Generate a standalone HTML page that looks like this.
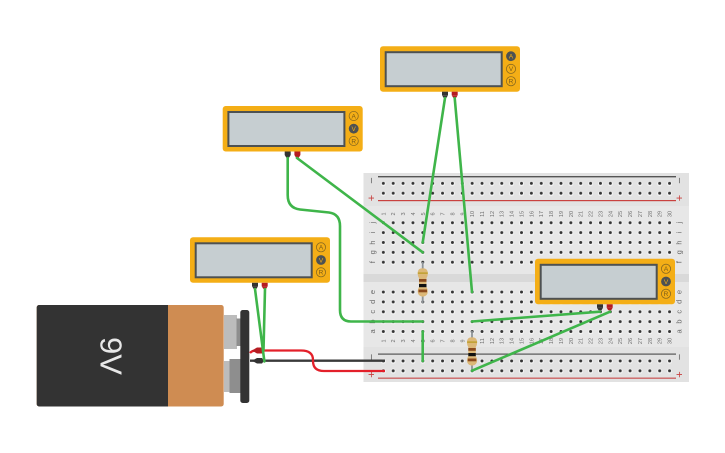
<!DOCTYPE html>
<html><head><meta charset="utf-8"><style>
html,body{margin:0;padding:0;background:#fff}
svg{display:block}
.l{font:5.5px "Liberation Sans",sans-serif;fill:#6f6f6f;text-anchor:middle}
.q{font:7.5px "Liberation Sans",sans-serif;fill:#6a6a6a;text-anchor:middle}
.k{font:11px "Liberation Sans",sans-serif;fill:#666;text-anchor:middle}
.p{font:11px "Liberation Sans",sans-serif;fill:#c8403f;text-anchor:middle}
.b{font:6.5px "Liberation Sans",sans-serif;text-anchor:middle}
.w{fill:none;stroke:#3fb54a;stroke-width:2.6;stroke-linecap:round;stroke-linejoin:round}
</style></head><body>
<svg width="725" height="453" viewBox="0 0 725 453" xmlns="http://www.w3.org/2000/svg">
<defs>
<pattern id="h" patternUnits="userSpaceOnUse" width="9.87" height="9.87" x="378.4" y="178.4">
<circle cx="4.93" cy="5.3" r="2.5" fill="#f4f4f4"/><circle cx="4.93" cy="4.93" r="1.5" fill="#333"/></pattern>
<pattern id="h2" patternUnits="userSpaceOnUse" width="9.87" height="9.87" x="378.4" y="217.8">
<circle cx="4.93" cy="5.3" r="2.5" fill="#f4f4f4"/><circle cx="4.93" cy="4.93" r="1.5" fill="#333"/></pattern>
<pattern id="h3" patternUnits="userSpaceOnUse" width="9.87" height="9.87" x="378.4" y="287.1">
<circle cx="4.93" cy="5.3" r="2.5" fill="#f4f4f4"/><circle cx="4.93" cy="4.93" r="1.5" fill="#333"/></pattern>
<pattern id="h4" patternUnits="userSpaceOnUse" width="9.87" height="9.87" x="378.4" y="356">
<circle cx="4.93" cy="5.3" r="2.5" fill="#f4f4f4"/><circle cx="4.93" cy="4.93" r="1.5" fill="#333"/></pattern>
<g id="m">
<rect width="140" height="45.5" rx="3" fill="#f4ae16"/>
<rect x="5.7" y="6" width="116" height="34" fill="#c6ced1" stroke="#4d5152" stroke-width="2"/>
</g>
</defs>

<!-- breadboard -->
<rect x="363.5" y="173" width="325.5" height="209" rx="2" fill="#e7e7e7"/>
<rect x="363.500" y="173" width="325.500" height="33" fill="#e2e2e2"/>
<rect x="363.500" y="347" width="325.500" height="35" fill="#e2e2e2"/>
<rect x="363.500" y="274" width="325.500" height="8" fill="#d9d9d9"/>
<rect x="378" y="176" width="298" height="1.400" fill="#555"/>
<rect x="378" y="200" width="298" height="1.200" fill="#c9413f"/>
<rect x="378" y="353.500" width="298" height="1.200" fill="#555"/>
<rect x="378" y="377.500" width="298" height="1.400" fill="#cc6565"/>
<rect x="378.400" y="178.400" width="296.100" height="19.740" fill="url(#h)"/>
<rect x="378.400" y="217.800" width="296.100" height="49.350" fill="url(#h2)"/>
<rect x="378.400" y="287.100" width="296.100" height="49.350" fill="url(#h3)"/>
<rect x="378.400" y="356" width="296.100" height="19.740" fill="url(#h4)"/>

<text class="k" transform="translate(375,180.500) rotate(-90)">−</text>
<text class="p" transform="translate(375,198) rotate(-90)">+</text>
<text class="k" transform="translate(683,180.500) rotate(-90)">−</text>
<text class="p" transform="translate(683,198) rotate(-90)">+</text>
<text class="k" transform="translate(375,357) rotate(-90)">−</text>
<text class="p" transform="translate(375,374.500) rotate(-90)">+</text>
<text class="k" transform="translate(683,357) rotate(-90)">−</text>
<text class="p" transform="translate(683,374.500) rotate(-90)">+</text>

<text class="q" transform="translate(375,222.700) rotate(-90)">j</text>
<text class="q" transform="translate(375,232.600) rotate(-90)">i</text>
<text class="q" transform="translate(375,242.500) rotate(-90)">h</text>
<text class="q" transform="translate(375,252.300) rotate(-90)">g</text>
<text class="q" transform="translate(375,262.200) rotate(-90)">f</text>
<text class="q" transform="translate(375,292) rotate(-90)">e</text>
<text class="q" transform="translate(375,301.800) rotate(-90)">d</text>
<text class="q" transform="translate(375,311.700) rotate(-90)">c</text>
<text class="q" transform="translate(375,321.500) rotate(-90)">b</text>
<text class="q" transform="translate(375,331.400) rotate(-90)">a</text>
<text class="q" transform="translate(681.500,222.700) rotate(-90)">j</text>
<text class="q" transform="translate(681.500,232.600) rotate(-90)">i</text>
<text class="q" transform="translate(681.500,242.500) rotate(-90)">h</text>
<text class="q" transform="translate(681.500,252.300) rotate(-90)">g</text>
<text class="q" transform="translate(681.500,262.200) rotate(-90)">f</text>
<text class="q" transform="translate(681.500,292) rotate(-90)">e</text>
<text class="q" transform="translate(681.500,301.800) rotate(-90)">d</text>
<text class="q" transform="translate(681.500,311.700) rotate(-90)">c</text>
<text class="q" transform="translate(681.500,321.500) rotate(-90)">b</text>
<text class="q" transform="translate(681.500,331.400) rotate(-90)">a</text>

<g>
<text class="l" transform="translate(385.300,214) rotate(-90)">1</text><text class="l" transform="translate(395.200,214) rotate(-90)">2</text><text class="l" transform="translate(405,214) rotate(-90)">3</text><text class="l" transform="translate(414.900,214) rotate(-90)">4</text><text class="l" transform="translate(424.800,214) rotate(-90)">5</text><text class="l" transform="translate(434.600,214) rotate(-90)">6</text><text class="l" transform="translate(444.500,214) rotate(-90)">7</text><text class="l" transform="translate(454.400,214) rotate(-90)">8</text><text class="l" transform="translate(464.300,214) rotate(-90)">9</text><text class="l" transform="translate(474.100,214) rotate(-90)">10</text>
<text class="l" transform="translate(484,214) rotate(-90)">11</text><text class="l" transform="translate(493.900,214) rotate(-90)">12</text><text class="l" transform="translate(503.700,214) rotate(-90)">13</text><text class="l" transform="translate(513.600,214) rotate(-90)">14</text><text class="l" transform="translate(523.500,214) rotate(-90)">15</text><text class="l" transform="translate(533.300,214) rotate(-90)">16</text><text class="l" transform="translate(543.200,214) rotate(-90)">17</text><text class="l" transform="translate(553.100,214) rotate(-90)">18</text><text class="l" transform="translate(562.900,214) rotate(-90)">19</text><text class="l" transform="translate(572.800,214) rotate(-90)">20</text>
<text class="l" transform="translate(582.700,214) rotate(-90)">21</text><text class="l" transform="translate(592.600,214) rotate(-90)">22</text><text class="l" transform="translate(602.400,214) rotate(-90)">23</text><text class="l" transform="translate(612.300,214) rotate(-90)">24</text><text class="l" transform="translate(622.200,214) rotate(-90)">25</text><text class="l" transform="translate(632,214) rotate(-90)">26</text><text class="l" transform="translate(641.900,214) rotate(-90)">27</text><text class="l" transform="translate(651.800,214) rotate(-90)">28</text><text class="l" transform="translate(661.600,214) rotate(-90)">29</text><text class="l" transform="translate(671.500,214) rotate(-90)">30</text>

<text class="l" transform="translate(385.300,341) rotate(-90)">1</text><text class="l" transform="translate(395.200,341) rotate(-90)">2</text><text class="l" transform="translate(405,341) rotate(-90)">3</text><text class="l" transform="translate(414.900,341) rotate(-90)">4</text><text class="l" transform="translate(424.800,341) rotate(-90)">5</text><text class="l" transform="translate(434.600,341) rotate(-90)">6</text><text class="l" transform="translate(444.500,341) rotate(-90)">7</text><text class="l" transform="translate(454.400,341) rotate(-90)">8</text><text class="l" transform="translate(464.300,341) rotate(-90)">9</text><text class="l" transform="translate(474.100,341) rotate(-90)">10</text>
<text class="l" transform="translate(484,341) rotate(-90)">11</text><text class="l" transform="translate(493.900,341) rotate(-90)">12</text><text class="l" transform="translate(503.700,341) rotate(-90)">13</text><text class="l" transform="translate(513.600,341) rotate(-90)">14</text><text class="l" transform="translate(523.500,341) rotate(-90)">15</text><text class="l" transform="translate(533.300,341) rotate(-90)">16</text><text class="l" transform="translate(543.200,341) rotate(-90)">17</text><text class="l" transform="translate(553.100,341) rotate(-90)">18</text><text class="l" transform="translate(562.900,341) rotate(-90)">19</text><text class="l" transform="translate(572.800,341) rotate(-90)">20</text>
<text class="l" transform="translate(582.700,341) rotate(-90)">21</text><text class="l" transform="translate(592.600,341) rotate(-90)">22</text><text class="l" transform="translate(602.400,341) rotate(-90)">23</text><text class="l" transform="translate(612.300,341) rotate(-90)">24</text><text class="l" transform="translate(622.200,341) rotate(-90)">25</text><text class="l" transform="translate(632,341) rotate(-90)">26</text><text class="l" transform="translate(641.900,341) rotate(-90)">27</text><text class="l" transform="translate(651.800,341) rotate(-90)">28</text><text class="l" transform="translate(661.600,341) rotate(-90)">29</text><text class="l" transform="translate(671.500,341) rotate(-90)">30</text>
</g>

<!-- battery -->
<rect x="36.700" y="305" width="187" height="101.500" rx="2.500" fill="#cf8c52"/>
<path d="M168 305H39.200a2.500 2.500 0 0 0-2.500 2.500V404a2.500 2.500 0 0 0 2.500 2.500H168z" fill="#333"/>
<text transform="translate(100.500,356) rotate(90)" text-anchor="middle" font-family="'Liberation Sans',sans-serif" font-size="31" fill="#e8e8e8">9V</text>
<rect x="224" y="315" width="13" height="34" fill="#bcbcbc"/>
<rect x="236.500" y="318.500" width="4" height="27.500" fill="#8e8e8e"/>
<rect x="224" y="361" width="6" height="31" fill="#bcbcbc"/>
<rect x="229.500" y="359" width="11" height="34" fill="#8e8e8e"/>
<rect x="240.300" y="310" width="9" height="93" rx="2.500" fill="#333"/>

<!-- battery wires -->
<path d="M250 360.700H385" fill="none" stroke="#3a3a3a" stroke-width="2.300"/>
<path d="M250 353Q252 350.500 256 350.500H301Q313 350.500 313 360V361Q313 371 324 371H385" fill="none" stroke="#e3202a" stroke-width="2.300"/>
<path d="M252 350.500L257 347.500H262L264 350.500L262 353.500H257z" fill="#b51c22"/>
<path d="M252 360.700L257 358H262L264 360.700L262 363.500H257z" fill="#333"/>

<!-- resistors -->
<g>
<path d="M422.700 262V303" stroke="#8d9397" stroke-width="1.800"/>
<path d="M417.700 273Q417.700 268.300 422.700 268.300T427.800 273Q427.800 276.500 426.500 278V287Q427.800 289 427.800 291.500Q427.800 296 422.700 296.800Q417.700 296 417.700 291.500Q417.700 289 419 287V278Q417.700 276.500 417.700 273z" fill="#dcb878"/>
<rect x="417.800" y="272.500" width="10" height="1.200" fill="#b79a1c"/>
<rect x="419" y="279" width="7.500" height="2.800" fill="#8b4a1e"/>
<rect x="419" y="284" width="7.500" height="3.200" fill="#111"/>
<rect x="418.500" y="289.500" width="8.500" height="2.800" fill="#8b4a1e"/>
</g>
<g transform="translate(49.300,69)">
<path d="M422.700 262V302" stroke="#8d9397" stroke-width="1.800"/>
<path d="M417.700 273Q417.700 268.300 422.700 268.300T427.800 273Q427.800 276.500 426.500 278V287Q427.800 289 427.800 291.500Q427.800 296 422.700 296.800Q417.700 296 417.700 291.500Q417.700 289 419 287V278Q417.700 276.500 417.700 273z" fill="#dcb878"/>
<rect x="417.800" y="272.500" width="10" height="1.200" fill="#b79a1c"/>
<rect x="419" y="279" width="7.500" height="2.800" fill="#8b4a1e"/>
<rect x="419" y="284" width="7.500" height="3.200" fill="#111"/>
<rect x="418.500" y="289.500" width="8.500" height="2.800" fill="#8b4a1e"/>
</g>

<!-- multimeters -->
<g transform="translate(380,46.200)"><use href="#m"/>
<circle cx="131" cy="10" r="4.900" fill="#4d5152"/><text class="b" x="131" y="12.300" fill="#f4ae16">A</text>
<circle cx="131" cy="22.700" r="4.600" fill="none" stroke="#8a6a20" stroke-width=".8"/><text class="b" x="131" y="25" fill="#7a5c18">V</text>
<circle cx="131" cy="35" r="4.600" fill="none" stroke="#8a6a20" stroke-width=".8"/><text class="b" x="131" y="37.300" fill="#7a5c18">R</text>
<rect x="62" y="45.500" width="6" height="3.500" fill="#333"/><path d="M62 49h6l-1.500 2.500h-3z" fill="#333"/>
<rect x="71.700" y="45.500" width="6" height="3.500" fill="#b51c22"/><path d="M71.700 49h6l-1.500 2.500h-3z" fill="#b51c22"/>
</g>
<g transform="translate(222.700,106)"><use href="#m"/>
<circle cx="131" cy="10" r="4.600" fill="none" stroke="#8a6a20" stroke-width=".8"/><text class="b" x="131" y="12.300" fill="#7a5c18">A</text>
<circle cx="131" cy="22.700" r="4.900" fill="#4d5152"/><text class="b" x="131" y="25" fill="#f4ae16">V</text>
<circle cx="131" cy="35" r="4.600" fill="none" stroke="#8a6a20" stroke-width=".8"/><text class="b" x="131" y="37.300" fill="#7a5c18">R</text>
<rect x="62" y="45.500" width="6" height="3.500" fill="#333"/><path d="M62 49h6l-1.500 2.500h-3z" fill="#333"/>
<rect x="71.700" y="45.500" width="6" height="3.500" fill="#b51c22"/><path d="M71.700 49h6l-1.500 2.500h-3z" fill="#b51c22"/>
</g>
<g transform="translate(190,237.300)"><use href="#m"/>
<circle cx="131" cy="10" r="4.600" fill="none" stroke="#8a6a20" stroke-width=".8"/><text class="b" x="131" y="12.300" fill="#7a5c18">A</text>
<circle cx="131" cy="22.700" r="4.900" fill="#4d5152"/><text class="b" x="131" y="25" fill="#f4ae16">V</text>
<circle cx="131" cy="35" r="4.600" fill="none" stroke="#8a6a20" stroke-width=".8"/><text class="b" x="131" y="37.300" fill="#7a5c18">R</text>
<rect x="62" y="45.500" width="6" height="3.500" fill="#333"/><path d="M62 49h6l-1.500 2.500h-3z" fill="#333"/>
<rect x="71.700" y="45.500" width="6" height="3.500" fill="#b51c22"/><path d="M71.700 49h6l-1.500 2.500h-3z" fill="#b51c22"/>
</g>
<g transform="translate(535,258.800)"><use href="#m"/>
<circle cx="131" cy="10" r="4.600" fill="none" stroke="#8a6a20" stroke-width=".8"/><text class="b" x="131" y="12.300" fill="#7a5c18">A</text>
<circle cx="131" cy="22.700" r="4.900" fill="#4d5152"/><text class="b" x="131" y="25" fill="#f4ae16">V</text>
<circle cx="131" cy="35" r="4.600" fill="none" stroke="#8a6a20" stroke-width=".8"/><text class="b" x="131" y="37.300" fill="#7a5c18">R</text>
<rect x="62" y="45.500" width="6" height="3.500" fill="#333"/><path d="M62 49h6l-1.500 2.500h-3z" fill="#333"/>
<rect x="71.700" y="45.500" width="6" height="3.500" fill="#b51c22"/><path d="M71.700 49h6l-1.500 2.500h-3z" fill="#b51c22"/>
</g>

<!-- green wires -->
<path class="w" d="M445 98L422.700 242.500"/>
<path class="w" d="M454.700 98L472 292"/>
<path class="w" d="M297 158L422.700 252.300"/>
<path class="w" d="M287.700 158V195Q287.700 208 300 209.500L329 212.500Q340 214 340 226V310Q340 321.500 351 321.500L422.700 321.500"/>
<path class="w" d="M422.700 331.400V361"/>
<path class="w" d="M472 321.500L600 311.700"/>
<path class="w" d="M472 370.700L610 311.700"/>
<path class="w" d="M255 289L264.400 361.500"/>
<path class="w" d="M265 289L263.500 350"/>
</svg>
</body></html>
